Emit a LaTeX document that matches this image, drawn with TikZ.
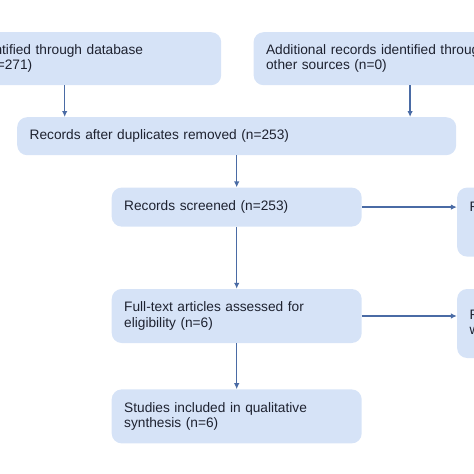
\documentclass[tikz,border=0pt]{standalone}
\usepackage{fontspec}
\setmainfont{Liberation Sans}
\usepackage{xcolor}
\usepackage{tikz}
\usetikzlibrary{positioning,calc,arrows.meta}

\definecolor{boxblue}{RGB}{214,227,247}
\definecolor{linkblue}{RGB}{74,107,165}
\definecolor{textdark}{RGB}{30,34,48}

\begin{document}
\begin{tikzpicture}[auto,
        box/.style={rectangle, fill=boxblue, rounded corners=10pt, text=textdark, align=left,
            inner xsep=12.5pt, inner ysep=0pt, anchor=north west,
            font=\fontsize{13.7pt}{15.5pt}\selectfont},
        link/.style={->, linkblue, line width=1.3pt},
        >={Latex[length=6pt,width=5.5pt]}
    ]
        \useasboundingbox (0,0) rectangle (474pt,-474pt);
        \clip (0,0) rectangle (474pt,-474pt);

        % Identification
        \node [box, text width=288pt, minimum height=53pt] at (-92pt,-32pt) (db)
            {Records identified through database\\searching (n=271)};
        \node [box, text width=288pt, minimum height=53pt, right=32pt of db] (other)
            {Additional records identified through\\other sources (n=0)};

        % Screening
        \node [box, text width=414pt, minimum height=38pt] at (17pt,-117pt) (dup)
            {Records after duplicates removed (n=253)};
        \node [box, text width=225pt, minimum height=39pt, below=32pt of dup, anchor=north] (screen)
            {Records screened (n=253)};
        \node [box, text width=225pt, minimum height=69pt, text height=10pt, text depth=31pt,
            right=95pt of screen.north east, anchor=north west] (excl1)
            {Records excluded (n=247)};

        % Eligibility
        \node [box, text width=225pt, minimum height=54pt, below=62pt of screen, anchor=north] (full)
            {Full-text articles assessed for\\eligibility (n=6)};
        \node [box, text width=225pt, minimum height=69pt,
            right=95pt of full.north east, anchor=north west] (excl2)
            {Records excluded\\with reasons (n=0)};

        % Included
        \node [box, text width=225pt, minimum height=54pt, below=46pt of full, anchor=north] (incl)
            {Studies included in qualitative\\synthesis (n=6)};

        \draw[link] (db) -- (db |- dup.north);
        \draw[link] (other) -- (other |- dup.north);
        \draw[link] (dup) -- (screen);
        \draw[link] (screen) -- (full);
        \draw[link] (full) -- (incl);
        \draw[link] (screen.east) -- (screen.east -| excl1.west);
        \draw[link] (full.east) -- (full.east -| excl2.west);

    \end{tikzpicture}
\end{document}
